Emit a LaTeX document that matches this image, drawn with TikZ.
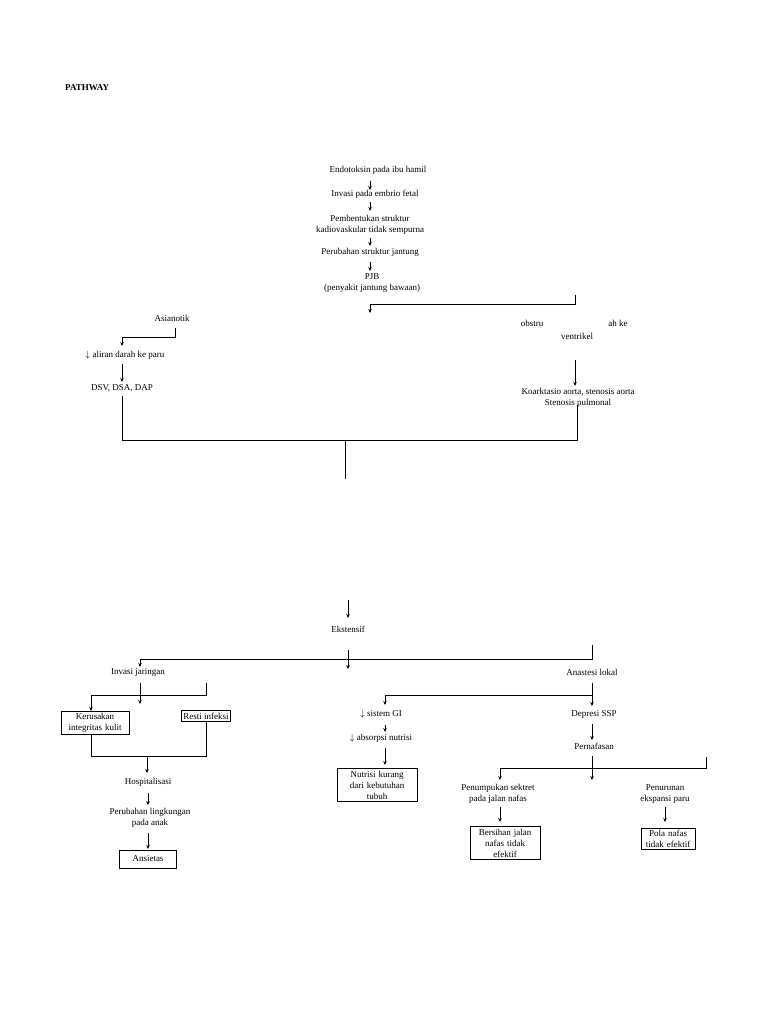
\documentclass[tikz,border=0pt]{standalone}
\usepackage{fontspec}
\setmainfont{Liberation Serif}
\usetikzlibrary{arrows.meta}
\begin{document}
\begin{tikzpicture}[x=1pt,y=-1pt,
  t/.style={font=\fontsize{9}{11}\selectfont,inner sep=0pt,align=center},
  bx/.style={t,draw,thick,inner sep=2pt},
  ln/.style={line width=0.8pt},
  ar/.style={ln,-{Stealth[length=4pt,width=3.5pt]}}]
\useasboundingbox (0,0) rectangle (768,1024);
\node[t,font=\fontsize{9}{11}\selectfont\bfseries,anchor=west] (pw) at (65,88) {PATHWAY};
\node[t] (a1) at (378,170) {Endotoksin pada ibu hamil};
\node[t] (a2) at (375,194) {Invasi pada embrio fetal};
\node[t] (a3) at (370,225) {Pembentukan struktur\\kadiovaskular tidak sempurna};
\node[t] (a4) at (370,252) {Perubahan struktur jantung};
\node[t] (a5) at (372,283) {PJB\\(penyakit jantung bawaan)};
\draw[ar] (370,181) -- (370,190);
\draw[ar] (370,202) -- (370,211);
\draw[ar] (370,238) -- (370,246);
\draw[ar] (370,262) -- (370,271);
\coordinate (j1) at (575,295);
\coordinate (j2) at (370,313);
\draw[ar] (j1) |- (370,304) -- (j2);
\node[t] (as) at (172,318) {Asianotik};
\node[t] (al) at (125,355) {$\downarrow$ aliran darah ke paru};
\node[t] (ds) at (122,388) {DSV, DSA, DAP};
\draw[ar] (175,328) |- (122,337) -- (122,346);
\draw[ar] (122,364) -- (122,382);
\node[t] (ob) at (532,323) {obstru};
\node[t] (ah) at (618,323) {ah ke};
\node[t] (ve) at (577,336) {ventrikel};
\node[t] (ko) at (578,398) {Koarktasio aorta, stenosis aorta\\Stenosis pulmonal};
\draw[ar] (575,360) -- (575,386);
\coordinate (m) at (345,440);
\draw[ln] (122,396) -- (122,440) -- (577,440) -- (577,405);
\draw[ln] (m) -- (345,479);
\draw[ar] (348,600) -- (348,618);
\node[t] (ek) at (348,629) {Ekstensif};
\node[t] (ij) at (138,672) {Invasi jaringan};
\node[t] (an) at (592,672) {Anastesi lokal};
\draw[ln] (348,650) -- (348,665);
\draw[ar] (348,659) -- (348,669);
\draw[ar] (592,645) -- (592,659) -- (140,659) -- (140,667);
\node[bx,text width=64pt] (ke) at (95,723) {Kerusakan\\integritas kulit};
\node[bx] (ri) at (206,716) {Resti infeksi};
\draw[ar] (140,683) -- (140,704);
\draw[ar] (206,683) |- (91,695) -- (ke.north -| 91,0);
\draw[ln] (ke.south -| 91,0) |- (206,756) -- (ri.south);
\draw[ar] (147,756) -- (147,773);
\node[t] (ho) at (148,782) {Hospitalisasi};
\node[t] (pl) at (150,818) {Perubahan lingkungan\\pada anak};
\draw[ar] (148,793) -- (148,805);
\draw[ar] (148,833) -- (148,849);
\node[bx,minimum width=57pt,minimum height=18pt] (ans) at (148,859) {Ansietas};
\node[t] (gi) at (381,714) {$\downarrow$ sistem GI};
\node[t] (ab) at (381,738) {$\downarrow$ absorpsi nutrisi};
\node[bx,text width=76pt] (nu) at (377,785) {Nutrisi kurang\\dari kebutuhan\\tubuh};
\node[t] (dp) at (594,714) {Depresi SSP};
\node[t] (pe) at (594,746) {Pernafasan};
\draw[ar] (592,683) -- (592,706);
\draw[ar] (592,695) -- (385,695) -- (385,705);
\draw[ar] (385,725) -- (385,732);
\draw[ar] (385,748) -- (385,765);
\draw[ar] (592,724) -- (592,740);
\draw[ar] (592,756) -- (592,780);
\draw[ar] (706,757) -- (706,768) -- (500,768) -- (500,780);
\node[t] (pn) at (498,794) {Penumpukan sektret\\pada jalan nafas};
\node[t] (pr) at (665,794) {Penurunan\\ekspansi paru};
\draw[ar] (500,807) -- (500,822);
\draw[ar] (665,807) -- (665,822);
\node[bx,text width=66pt] (be) at (505,843) {Bersihan jalan\\nafas tidak\\efektif};
\node[bx,text width=50pt] (po) at (668,839) {Pola nafas\\tidak efektif};
\end{tikzpicture}
\end{document}
